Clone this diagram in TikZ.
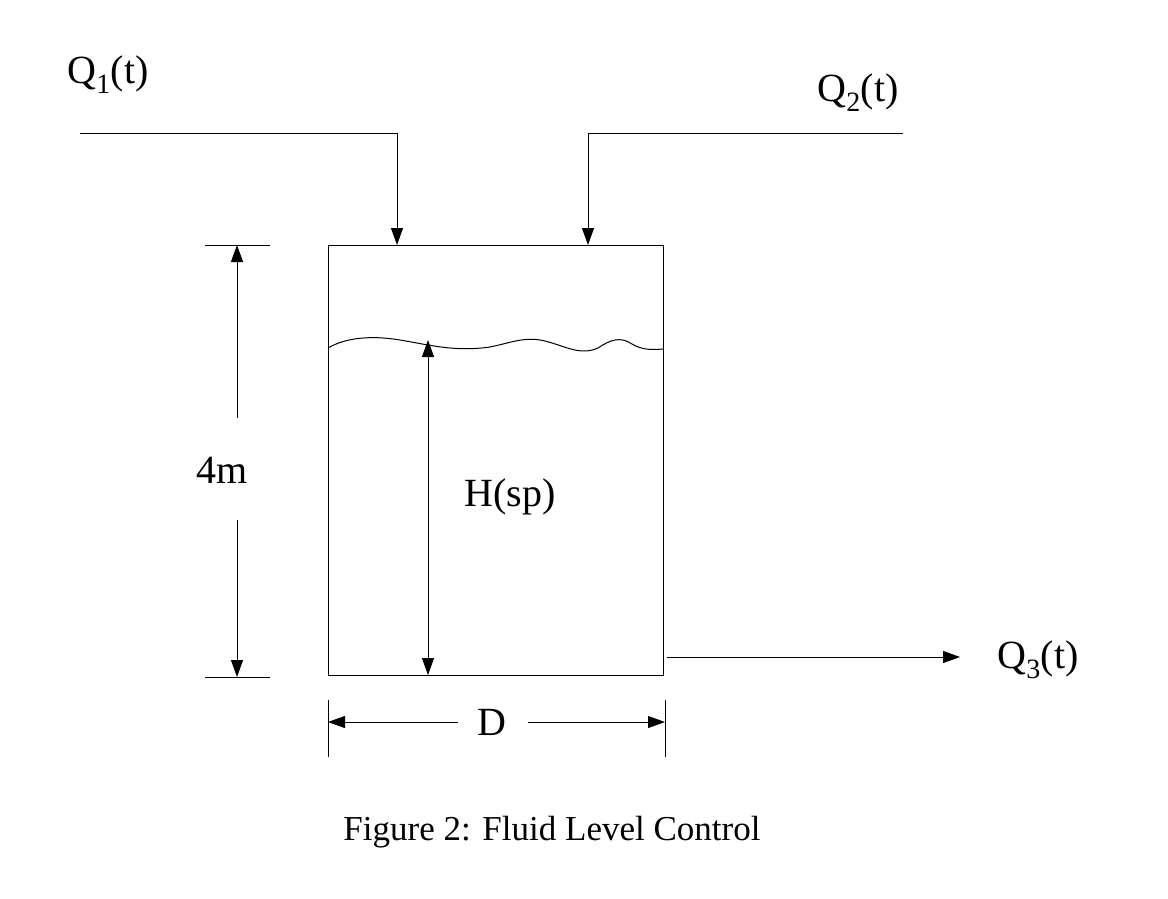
\documentclass[tikz,border=0pt]{standalone}
\usepackage{fontspec}
\setmainfont{Liberation Serif}
\usetikzlibrary{arrows.meta}
\begin{document}
\begin{tikzpicture}[x=1pt,y=-1pt,line width=1pt,
  tip/.tip={Triangle[length=17pt,width=12pt]},
  arr/.style={-tip},
  lbl/.style={font=\fontsize{40}{44}\selectfont,inner sep=0pt}]
\useasboundingbox (0,0) rectangle (1168,898);
\node[lbl] (q1) at (108,75) {Q\textsubscript{1}(t)};
\node[lbl] (q2) at (858,93) {Q\textsubscript{2}(t)};
\node[lbl] (q3) at (1038,660) {Q\textsubscript{3}(t)};
\node[lbl] (h) at (510,497) {H(sp)};
\node[lbl] (m) at (222,470) {4m};
\node[lbl] (d) at (492,722) {D};
\node[font=\fontsize{35}{40}\selectfont,inner sep=0pt] (cap) at (552,832) {Figure 2: Fluid Level Control};
\draw (328,245) rectangle (663,675);
\coordinate (a1) at (80,133); \coordinate (a2) at (397,245);
\draw[arr] (a1) -| (a2);
\coordinate (b1) at (903,133); \coordinate (b2) at (588,245);
\draw[arr] (b1) -| (b2);
\coordinate (c1) at (667,657); \coordinate (c2) at (960,657);
\draw[arr] (c1) -- (c2);
\draw (328,348) .. controls (345,338) and (370,335) .. (400,340)
  .. controls (430,345) and (455,352) .. (490,347)
  .. controls (510,343) and (525,336) .. (545,341)
  .. controls (565,346) and (580,356) .. (598,348)
  .. controls (610,340) and (620,336) .. (632,344)
  .. controls (642,350) and (652,350) .. (663,349);
\coordinate (h1) at (428,340); \coordinate (h2) at (428,675);
\draw[tip-tip] (h1) -- (h2);
\draw (205,245) -- (270,245); \draw (205,677) -- (270,677);
\coordinate (v1) at (237,245); \coordinate (v2) at (237,677);
\draw[tip-] (v1) -- (237,418);
\draw[-tip] (237,520) -- (v2);
\draw (328,700) -- (328,757); \draw (665,700) -- (665,757);
\draw[tip-] (328,722) -- (458,722);
\draw[-tip] (528,722) -- (665,722);
\end{tikzpicture}
\end{document}
